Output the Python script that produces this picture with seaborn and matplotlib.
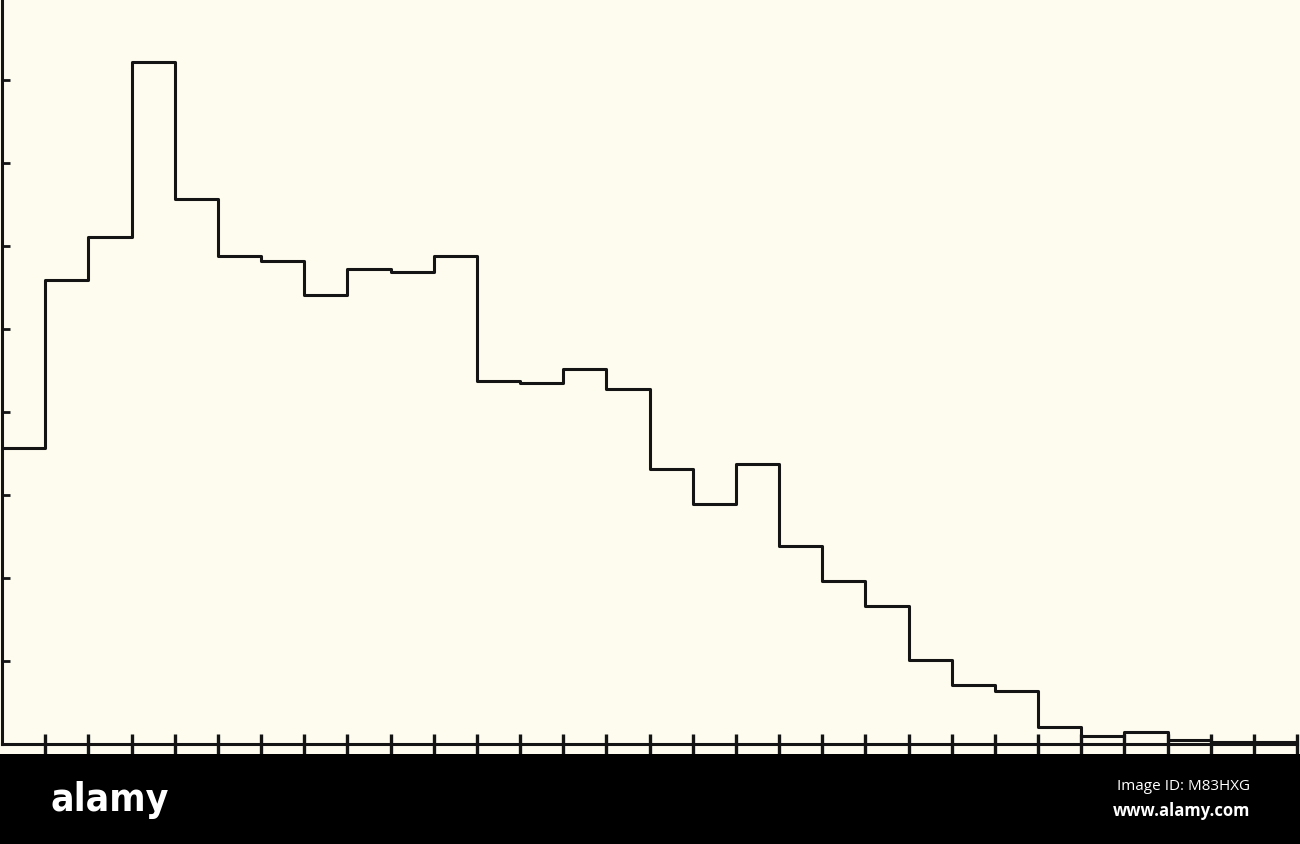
"""
Step histogram recreated from a scanned report page (alamy stock scan)
"""

import numpy as np
import pandas as pd
import matplotlib.pyplot as plt
import matplotlib.patches as mpatches
import seaborn as sb

# bin index (30 equal bins) and height of each bin, in y tick units
bin_index = list(range(30))
bin_height = [3.57, 5.59, 6.11, 8.22, 6.57, 5.88, 5.82, 5.41, 5.72, 5.69,
              5.88, 4.37, 4.35, 4.52, 4.28, 3.31, 2.89, 3.37, 2.39, 1.96,
              1.66, 1.01, 0.71, 0.64, 0.20, 0.10, 0.14, 0.05, 0.03, 0.02]
y_ticks = [1, 2, 3, 4, 5, 6, 7, 8]

paper = "#fdfcef"
ink = "#141414"

hist_df = pd.DataFrame({"center": np.array(bin_index) + 0.5,
                        "height": bin_height})

sb.set_theme(style="white")
fig = plt.figure(figsize=(13, 8.45), dpi=100)
fig.patch.set_facecolor(paper)

ax = fig.add_axes([2 / 1300, 100 / 845, 1295 / 1300, 747 / 845])
ax.set_facecolor(paper)

sb.histplot(data=hist_df, x="center", weights="height", bins=30,
            binrange=(0, 30), element="step", fill=False, color=ink,
            linewidth=2.2, ax=ax)

ax.set_xlim(0, 30)
ax.set_ylim(0, 9)
ax.set_xticks(range(1, 31))
ax.set_yticks(y_ticks)
ax.set_xticklabels([])
ax.set_yticklabels([])
ax.set_xlabel("")
ax.set_ylabel("")
ax.tick_params(axis="x", direction="inout", length=14, width=2.4,
               color=ink, bottom=True)
ax.tick_params(axis="y", direction="in", length=6, width=2, color=ink,
               left=True)
for side in ["top", "right"]:
    ax.spines[side].set_visible(False)
for side in ["left", "bottom"]:
    ax.spines[side].set_color(ink)
    ax.spines[side].set_linewidth(2.2)

# black watermark band at the bottom
fig.patches.append(mpatches.Rectangle((0, 0), 1, 90 / 845, transform=fig.transFigure,
                                      facecolor="black", edgecolor="none", zorder=5))
fig.text(50 / 1300, 1 - 800 / 845, "alamy", color="white", fontsize=28,
         fontweight="bold", fontstretch="condensed", family="DejaVu Sans",
         ha="left", va="center", zorder=6)
fig.text(1250 / 1300, 1 - 787 / 845, "Image ID: M83HXG", color="white",
         fontsize=11, family="Open Sans", ha="right", va="center", zorder=6)
fig.text(1250 / 1300, 1 - 811 / 845, "www.alamy.com", color="white",
         fontsize=12, fontweight="bold", family="Open Sans",
         ha="right", va="center", zorder=6)

fig.savefig("out.png", dpi=100, facecolor=paper)
